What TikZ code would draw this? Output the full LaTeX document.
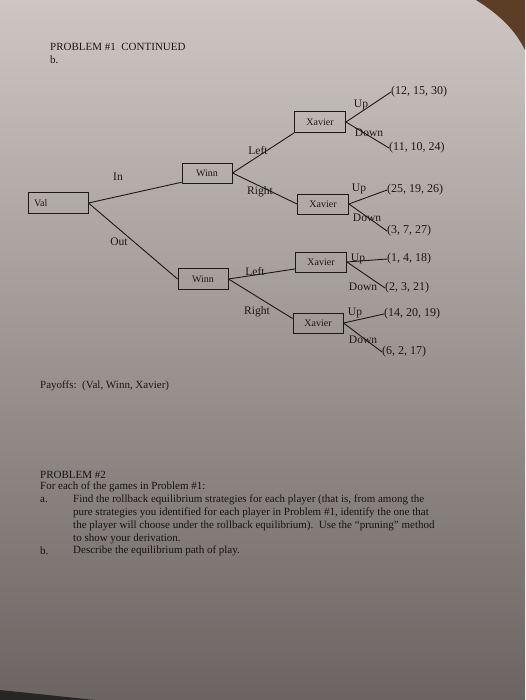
\documentclass[tikz,border=0pt]{standalone}
\usepackage{fontspec}
\setmainfont{Liberation Serif}
\usetikzlibrary{positioning,calc}
\definecolor{ink}{RGB}{28,25,25}
\definecolor{papertop}{RGB}{206,198,194}
\definecolor{papermid}{RGB}{182,174,171}
\definecolor{paperbot}{RGB}{108,100,98}
\definecolor{tabletop}{RGB}{92,62,38}
\tikzset{
  player/.style={draw=ink,line width=0.9pt,minimum width=51pt,minimum height=20pt,inner sep=2pt,
    font=\fontsize{10}{12}\selectfont,text=ink},
  movestyle/.style={draw=ink,line width=0.9pt},
  movelabel/.style={font=\fontsize{11.5}{13}\selectfont,text=ink,inner sep=0pt},
  payoff/.style={font=\fontsize{12}{14}\selectfont,text=ink,inner sep=0pt,anchor=west},
  pagetext/.style={font=\fontsize{11}{13}\selectfont,text=ink,inner sep=0pt,anchor=west},
  tasktext/.style={pagetext,text=black!92}
}
\begin{document}
\begin{tikzpicture}[x=1pt,y=-1pt]
  \useasboundingbox (0,0) rectangle (525,700);
  % paper and photo edges
  \shade[top color=papertop,middle color=papermid,bottom color=paperbot] (0,0) rectangle (525,700);
  \fill[tabletop] (476,0) .. controls (500,15) and (515,30) .. (525,50) -- (525,0) -- cycle;
  \fill[black!85] (0,690) -- (95,700) -- (0,700) -- cycle;

  \node[pagetext] (head) at (50,47) {PROBLEM \#1\ \ CONTINUED};
  \node[pagetext] (partb) at (50,60) {b.};

  % game tree
  \node[player,minimum width=60pt,text width=48pt,align=left,inner sep=6pt,minimum height=21pt] (val) at (58,203) {Val};
  \node[player,minimum width=50pt] (winnA) at (207,173) {Winn};
  \node[player,minimum width=50pt,minimum height=21pt] (winnB) at (203,279) {Winn};
  \node[player,minimum height=21pt] (xavA) at (320,122) {Xavier};
  \node[player] (xavB) at (323,204) {Xavier};
  \node[player] (xavC) at (321,262) {Xavier};
  \node[player,minimum width=50pt] (xavD) at (318,323) {Xavier};

  \node[payoff] (payA) at (391,92) {(12, 15, 30)};
  \node[payoff] (payB) at (389,148) {(11, 10, 24)};
  \node[payoff] (payC) at (387,190) {(25, 19, 26)};
  \node[payoff] (payD) at (387,231) {(3, 7, 27)};
  \node[payoff] (payE) at (387,259) {(1, 4, 18)};
  \node[payoff] (payF) at (385,288) {(2, 3, 21)};
  \node[payoff] (payG) at (384,314) {(14, 20, 19)};
  \node[payoff] (payH) at (382,352) {(6, 2, 17)};

  \draw[movestyle] (val.east) -- (winnA.200);
  \draw[movestyle] (val.east) -- (winnB.west);
  \draw[movestyle] (winnA.east) -- (xavA.south west);
  \draw[movestyle] (winnA.east) -- (xavB.west);
  \draw[movestyle] (winnB.east) -- (xavC.195);
  \draw[movestyle] (winnB.east) -- (xavD.170);
  \draw[movestyle] (xavA.east) -- (payA.west);
  \draw[movestyle] (xavA.east) -- (payB.west);
  \draw[movestyle] (xavB.east) -- (payC.west);
  \draw[movestyle] (xavB.east) -- (payD.west);
  \draw[movestyle] (xavC.east) -- (payE.west);
  \draw[movestyle] (xavC.east) -- (payF.west);
  \draw[movestyle] (xavD.east) -- (payG.west);
  \draw[movestyle] (xavD.east) -- (payH.west);

  \node[movelabel] (inlbl) at (118,177) {In};
  \node[movelabel] (outlbl) at (119,242) {Out};
  \node[movelabel] (leftA) at (258,151) {Left};
  \node[movelabel] (rightA) at (260,192) {Right};
  \node[movelabel] (leftB) at (255,272) {Left};
  \node[movelabel] (rightB) at (257,312) {Right};
  \node[movelabel] (upA) at (361,105) {Up};
  \node[movelabel] (downA) at (369,133) {Down};
  \node[movelabel] (upB) at (359,189) {Up};
  \node[movelabel] (downB) at (367,218) {Down};
  \node[movelabel] (upC) at (358,259) {Up};
  \node[movelabel] (downC) at (363,287) {Down};
  \node[movelabel] (upD) at (355,313) {Up};
  \node[movelabel] (downD) at (363,340) {Down};

  \node[pagetext] (key) at (40,386) {Payoffs:\ \ (Val, Winn, Xavier)};

  % problem 2
  \node[tasktext] (ptwo) at (40,475) {PROBLEM \#2};
  \node[tasktext] (intro) at (40,487) {For each of the games in Problem \#1:};
  \node[tasktext] (itema) at (40,500) {a.};
  \node[tasktext] (lineA) at (73,500) {Find the rollback equilibrium strategies for each player (that is, from among the};
  \node[tasktext] (lineB) at (73,513) {pure strategies you identified for each player in Problem \#1, identify the one that};
  \node[tasktext] (lineC) at (73,526) {the player will choose under the rollback equilibrium).\ \ Use the “pruning” method};
  \node[tasktext] (lineD) at (73,539) {to show your derivation.};
  \node[tasktext] (itemb) at (40,551) {b.};
  \node[tasktext] (lineE) at (73,551) {Describe the equilibrium path of play.};
\end{tikzpicture}
\end{document}
